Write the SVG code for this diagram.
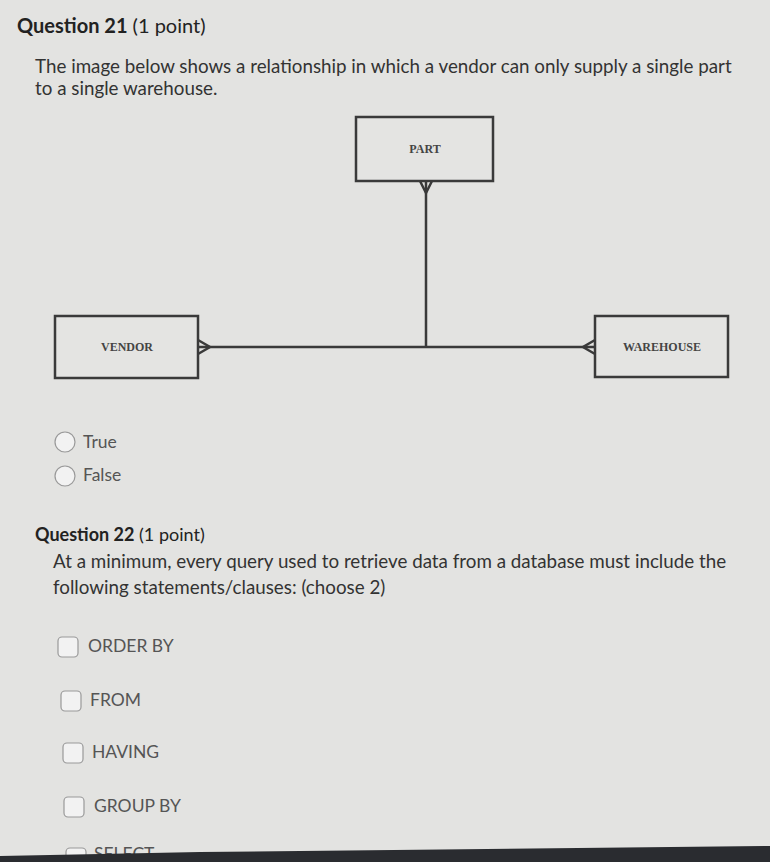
<svg xmlns="http://www.w3.org/2000/svg" width="770" height="862" viewBox="0 0 770 862">
<style>
.q{font-family:Lato,"Liberation Sans",sans-serif;fill:#222}
.t{font-family:Lato,"Liberation Sans",sans-serif;fill:#333;font-size:18.8px}
.o{font-family:Lato,"Liberation Sans",sans-serif;fill:#555;font-size:17.5px}
.ent rect{fill:#e4e4e2;stroke:#3a3a3a;stroke-width:2.5}
.ent text{font-family:"Liberation Serif",serif;font-weight:bold;font-size:12px;fill:#444;text-anchor:middle}
.c{fill:none;stroke:#3a3a3a;stroke-width:2.5}
.rad{fill:#f2f2f2;stroke:#999;stroke-width:1.2}
</style>
<rect width="770" height="862" fill="#e3e3e1"/>
<text class="q" x="17" y="33" font-size="20"><tspan font-weight="bold">Question 21</tspan> (1 point)</text>
<text class="t" x="35" y="73">The image below shows a relationship in which a vendor can only supply a single part</text>
<text class="t" x="35" y="95">to a single warehouse.</text>
<g class="c" id="connectors">
<path d="M198 347H595M426 181V347"/>
<path d="M198 340L210 347L198 354M426 193L420 181M426 193L432 181"/>
<path d="M595 340L583 347L595 354"/>
</g>
<g class="ent" id="part"><rect x="356" y="117" width="137" height="64"/><text x="425" y="153">PART</text></g>
<g class="ent" id="vendor"><rect x="55" y="316" width="143" height="62"/><text x="127" y="351">VENDOR</text></g>
<g class="ent" id="warehouse"><rect x="595" y="316" width="133" height="61"/><text x="662" y="351">WAREHOUSE</text></g>
<circle class="rad" cx="65" cy="442" r="10"/><text class="o" x="83" y="448">True</text>
<circle class="rad" cx="65" cy="476" r="10"/><text class="o" x="83" y="481">False</text>
<text class="q" x="35" y="541" font-size="18"><tspan font-weight="bold">Question 22</tspan> (1 point)</text>
<text class="t" x="53" y="568">At a minimum, every query used to retrieve data from a database must include the</text>
<text class="t" x="53" y="594">following statements/clauses: (choose 2)</text>
<rect class="rad" x="58" y="637" width="20" height="20" rx="4"/><text class="o" x="88" y="652">ORDER BY</text>
<rect class="rad" x="61" y="691" width="20" height="20" rx="4"/><text class="o" x="90" y="706">FROM</text>
<rect class="rad" x="63" y="743" width="20" height="20" rx="4"/><text class="o" x="92" y="758">HAVING</text>
<rect class="rad" x="64" y="797" width="20" height="20" rx="4"/><text class="o" x="94" y="812">GROUP BY</text>
<rect class="rad" x="66" y="848" width="20" height="20" rx="4"/><text class="o" x="94" y="860" font-size="14">SELECT</text>
<path d="M0 856L200 852L770 846V862H0Z" fill="#2a2c30"/>
</svg>
